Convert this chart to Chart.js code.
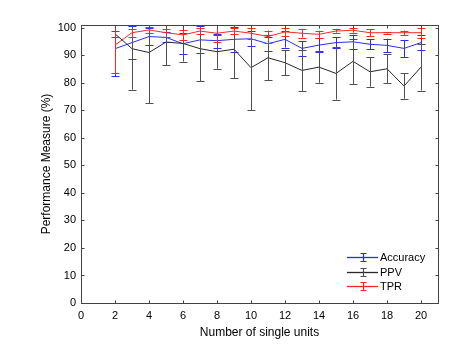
<!DOCTYPE html>
<html>
<head>
<meta charset="utf-8">
<script src="https://cdn.jsdelivr.net/npm/chart.js@4/dist/chart.umd.min.js"></script>
<style>
html,body{margin:0;padding:0;background:#fff;}
canvas{display:block;}
</style>
</head>
<body>
<canvas id="c" width="474" height="358"></canvas>
<script>
// ---- data ----
const units = [2,3,4,5,6,7,8,9,10,11,12,13,14,15,16,17,18,19,20];
const accuracy = [92.4,94.6,96.8,96.5,94.2,95.6,95.3,95.8,96.0,94.2,95.8,92.5,93.7,94.6,94.9,94.0,93.6,92.5,94.6];
const accuracyErr = [10.0,6.1,3.2,1.8,3.8,4.9,2.5,4.5,2.7,2.6,3.0,2.7,2.6,2.0,2.6,1.8,2.4,3.1,2.6];
const ppv = [97.8,92.4,91.0,94.8,94.3,92.4,91.3,92.2,85.5,89.1,87.3,84.5,85.7,83.4,87.8,84.0,85.1,78.8,85.7];
const ppvErr = [1.0,14.9,18.4,8.5,6.6,11.8,6.2,10.6,15.5,8.2,4.6,7.5,5.7,9.5,8.2,5.4,5.2,4.6,8.5];
const tpr = [93.7,98.2,99.2,98.2,97.4,98.8,98.0,98.8,98.0,96.8,98.5,98.0,97.6,98.8,99.1,98.2,98.2,98.2,98.2];
const tprErr = [10.3,1.5,1.1,1.5,1.8,1.2,3.0,1.2,2.0,2.2,1.5,1.6,1.3,0.6,0.9,1.2,0.3,0.8,1.8];
const xTicks = [0,2,4,6,8,10,12,14,16,18,20];
const yTicks = [0,10,20,30,40,50,60,70,80,90,100];
const seriesNames = ['Accuracy','PPV','TPR'];

const FONT = "'Liberation Sans', Arial, sans-serif";
const BLUE = '#2d2df0';
const BLACK = '#282828';
const GRAY = '#505050';
const RED = '#f52828';
const legendStyles = [
  {line:BLUE, err:BLUE},
  {line:BLACK, err:GRAY},
  {line:RED, err:RED}
];

function pts(vals){ return units.map((u,i)=>({x:u, y:vals[i]})); }

const errorBars = {
  id:'errorBars',
  afterDatasetDraw(chart, args){
    const ds = chart.data.datasets[args.index];
    const xs = chart.scales.x, ys = chart.scales.y, a = chart.chartArea, ctx = chart.ctx;
    ctx.save();
    ctx.beginPath(); ctx.rect(a.left, a.top, a.right-a.left, a.bottom-a.top); ctx.clip();
    ctx.strokeStyle = ds.errColor; ctx.lineWidth = 1;
    ds.data.forEach((p,i)=>{
      const e = ds.err[i];
      const px = Math.round(xs.getPixelForValue(p.x))+0.5;
      const y1 = ys.getPixelForValue(p.y+e), y2 = ys.getPixelForValue(p.y-e);
      ctx.beginPath();
      ctx.moveTo(px,y1); ctx.lineTo(px,y2);
      ctx.moveTo(px-4,Math.round(y1)+0.5); ctx.lineTo(px+4,Math.round(y1)+0.5);
      ctx.moveTo(px-4,Math.round(y2)+0.5); ctx.lineTo(px+4,Math.round(y2)+0.5);
      ctx.stroke();
    });
    ctx.restore();
  }
};

const frame = {
  id:'frame',
  afterDraw(chart){
    const a = chart.chartArea, ctx = chart.ctx, xs = chart.scales.x, ys = chart.scales.y;
    const L = Math.round(a.left)+0.5, R = Math.round(a.right)+0.5, T = Math.round(a.top)+0.5, B = Math.round(a.bottom)+0.5;
    ctx.save();
    ctx.strokeStyle = '#444'; ctx.lineWidth = 1;
    ctx.strokeRect(L, T, R-L, B-T);
    ctx.beginPath();
    xTicks.forEach(v=>{
      const px = Math.round(xs.getPixelForValue(v))+0.5;
      ctx.moveTo(px,B); ctx.lineTo(px,B-3);
      ctx.moveTo(px,T); ctx.lineTo(px,T+3);
    });
    yTicks.forEach(v=>{
      const py = Math.round(ys.getPixelForValue(v))+0.5;
      ctx.moveTo(L,py); ctx.lineTo(L+3,py);
      ctx.moveTo(R,py); ctx.lineTo(R-3,py);
    });
    ctx.stroke();
    ctx.restore();
    // legend
    for (let i = 0; i < seriesNames.length; i++) {
      const st = legendStyles[i];
      const y = Math.round(a.bottom - 46 + i*14.6)+0.5;
      const x0 = a.right - 91, x1 = a.right - 60, xm = Math.round((x0+x1)/2)+0.5;
      ctx.save();
      ctx.lineWidth = 1.3;
      ctx.strokeStyle = st.line;
      ctx.beginPath(); ctx.moveTo(x0,y); ctx.lineTo(x1,y); ctx.stroke();
      ctx.lineWidth = 1.2;
      ctx.strokeStyle = st.err;
      ctx.beginPath();
      ctx.moveTo(xm,y-4); ctx.lineTo(xm,y+4);
      ctx.moveTo(xm-3,y-4); ctx.lineTo(xm+3,y-4);
      ctx.moveTo(xm-3,y+4); ctx.lineTo(xm+3,y+4);
      ctx.stroke();
      ctx.font = '11px ' + FONT;
      ctx.textBaseline = 'middle'; ctx.textAlign = 'left';
      ctx.fillStyle = '#000';
      ctx.fillText(seriesNames[i], a.right - 58, y+0.5);
      ctx.restore();
    }
  }
};

new Chart(document.getElementById('c'), {
  type:'line',
  data:{
    datasets:[
      {label:seriesNames[0], data:pts(accuracy), err:accuracyErr, borderColor:BLUE, errColor:BLUE, order:3},
      {label:seriesNames[1], data:pts(ppv), err:ppvErr, borderColor:BLACK, errColor:GRAY, order:2},
      {label:seriesNames[2], data:pts(tpr), err:tprErr, borderColor:RED, errColor:RED, order:1}
    ]
  },
  options:{
    responsive:false,
    animation:false,
    devicePixelRatio:1,
    layout:{padding:{left:35, top:25, right:36, bottom:14}},
    elements:{line:{borderWidth:1, tension:0, fill:false}, point:{radius:0, hoverRadius:0}},
    plugins:{legend:{display:false}, tooltip:{enabled:false}},
    scales:{
      x:{
        type:'linear', min:0, max:21,
        afterBuildTicks(s){ s.ticks = xTicks.map(v=>({value:v})); },
        afterFit(s){ s.height = 41; },
        grid:{display:false, drawTicks:false},
        border:{display:false},
        ticks:{color:'#000', font:{family:FONT, size:11}, padding:6, maxRotation:0, autoSkip:false},
        title:{display:true, text:'Number of single units', color:'#000', font:{family:FONT, size:12}, padding:{top:1, bottom:4}}
      },
      y:{
        type:'linear', min:0, max:101,
        afterBuildTicks(s){ s.ticks = yTicks.map(v=>({value:v})); },
        afterFit(s){ s.width = 46; },
        grid:{display:false, drawTicks:false},
        border:{display:false},
        ticks:{color:'#000', font:{family:FONT, size:11}, padding:5, autoSkip:false},
        title:{display:true, text:'Performance Measure (%)', color:'#000', font:{family:FONT, size:12}, padding:{top:4, bottom:4}}
      }
    }
  },
  plugins:[errorBars, frame]
});
</script>
</body>
</html>
